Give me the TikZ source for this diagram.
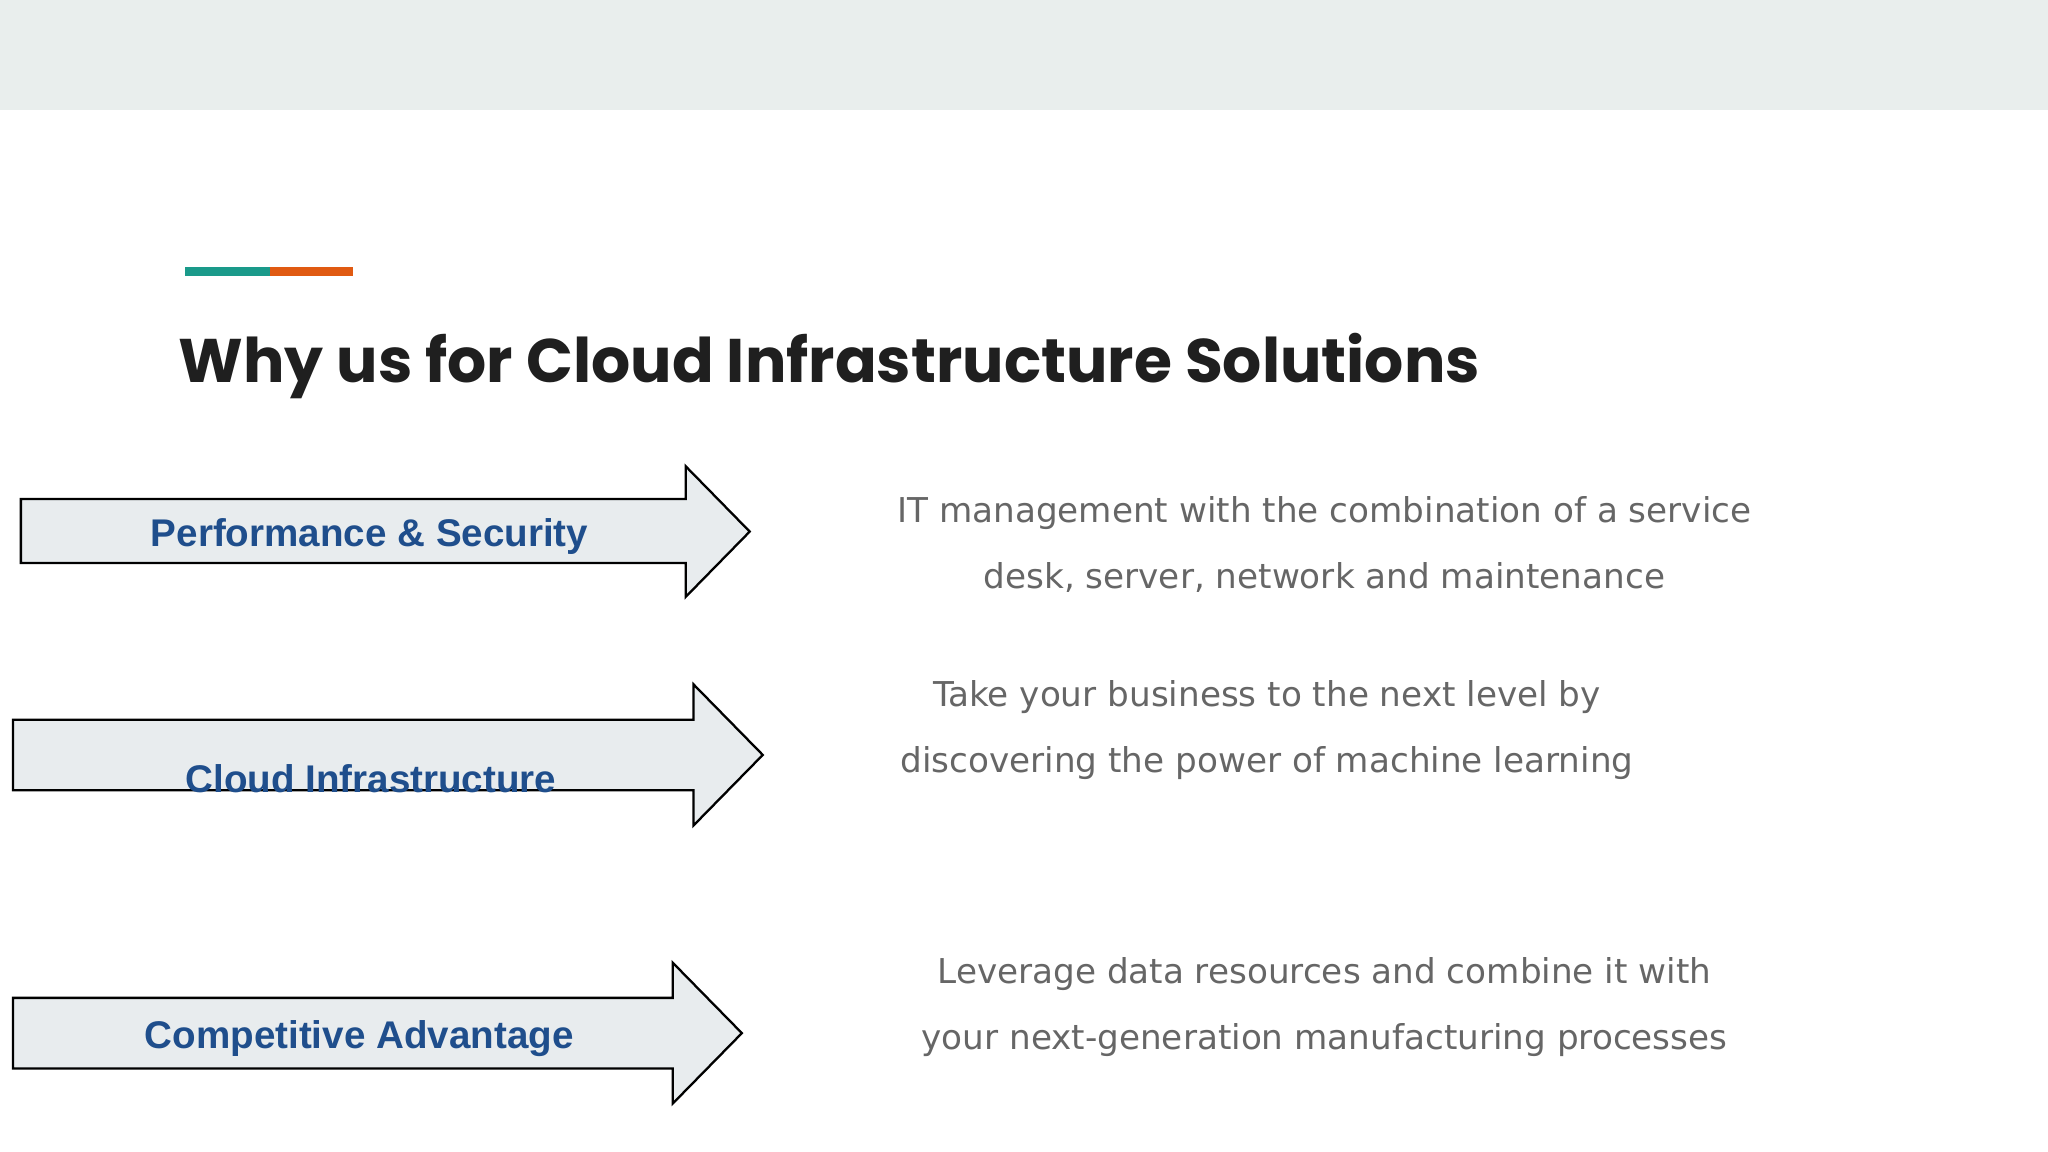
\documentclass[tikz,border=0pt]{standalone}
\usepackage{fontspec}
\setmainfont{DejaVu Sans}
\newfontfamily\lab{Liberation Sans}
\newfontfamily\ttl{Poppins}
\definecolor{band}{HTML}{E9EEED}
\definecolor{teal}{HTML}{1A9A8A}
\definecolor{orng}{HTML}{E05A12}
\definecolor{arrfill}{HTML}{E8ECEE}
\definecolor{lblue}{HTML}{1F4E8C}
\definecolor{body}{HTML}{666666}
\begin{document}
\begin{tikzpicture}[x=0.01cm,y=-0.01cm,
  arr/.style={fill=arrfill,draw=black,line width=0.5pt,line join=miter},
  lbl/.style={font=\lab\bfseries\fontsize{8.4}{10}\selectfont,text=lblue,anchor=center,inner sep=0},
  txt/.style={font=\fontsize{7.45}{14.5}\selectfont,text=body,align=center,anchor=center,inner sep=0}]
\useasboundingbox (0,0) rectangle (1568,882);
\fill[white] (0,0) rectangle (1568,882);
\fill[band] (0,0) rectangle (1568,84);
\fill[teal] (142,204.5) rectangle (207,211.5);
\fill[orng] (207,204.5) rectangle (270,211.5);
\node[anchor=west,inner sep=0,font=\ttl\bfseries\fontsize{13.4}{16}\selectfont,text=black!88] (title) at (136,280) {Why us for Cloud Infrastructure Solutions};
\draw[arr] (16,382) -- (525,382) -- (525,357) -- (574,407) -- (525,457) -- (525,431) -- (16,431) -- cycle;
\draw[arr] (10,551) -- (531,551) -- (531,524) -- (584,578) -- (531,632) -- (531,605) -- (10,605) -- cycle;
\draw[arr] (10,764) -- (515,764) -- (515,737) -- (568,791) -- (515,845) -- (515,818) -- (10,818) -- cycle;
\node[lbl] (l1) at (283,411) {Performance \& Security};
\node[lbl] (l2) at (284,596) {Cloud Infrastructure};
\node[lbl] (l3) at (275,795) {Competitive Advantage};
\node[txt] (t1) at (1014,417) {IT management with the combination of a service\\desk, server, network and maintenance};
\node[txt] (t2) at (970,559) {Take your business to the next level by\\discovering the power of machine learning};
\node[txt] (t3) at (1014,771) {Leverage data resources and combine it with\\your next-generation manufacturing processes};
\end{tikzpicture}
\end{document}
